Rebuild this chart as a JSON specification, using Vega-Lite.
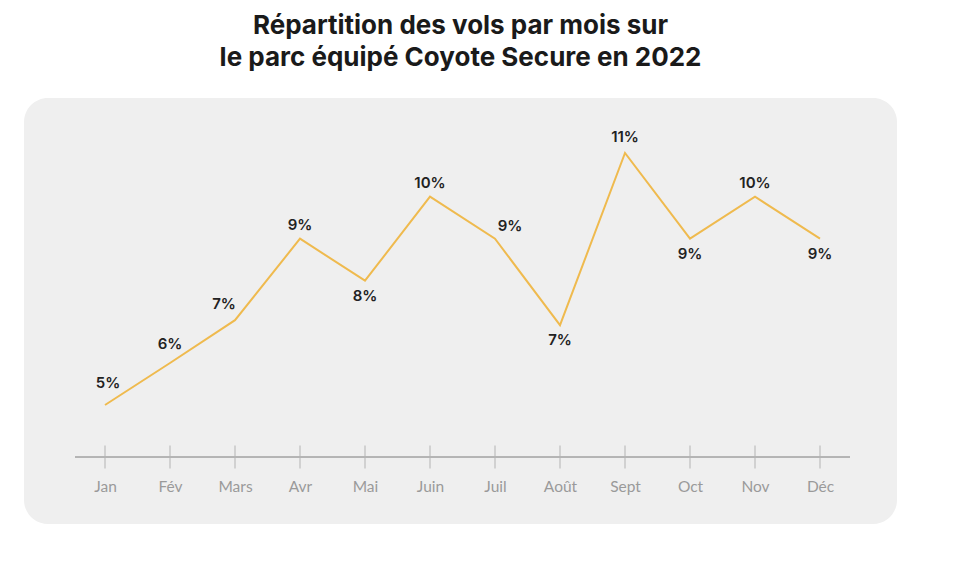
{
  "$schema": "https://vega.github.io/schema/vega-lite/v6.json",
  "autosize": "none",
  "width": 873,
  "height": 426,
  "padding": {"left": 24, "top": 98, "right": 63, "bottom": 40},
  "background": "#ffffff",
  "title": {
    "text": ["Répartition des vols par mois sur", "le parc équipé Coyote Secure en 2022"],
    "anchor": "middle",
    "font": "Inter",
    "fontSize": 26,
    "fontWeight": "bold",
    "color": "#1a1a1a",
    "lineHeight": 32,
    "offset": 27
  },
  "config": {
    "view": {"fill": "#efefef", "cornerRadius": 24, "stroke": null}
  },
  "data": {
    "values": [
      {"mois": "Jan", "part": 0.050},
      {"mois": "Fév", "part": 0.060},
      {"mois": "Mars", "part": 0.0702},
      {"mois": "Avr", "part": 0.0896},
      {"mois": "Mai", "part": 0.0796},
      {"mois": "Juin", "part": 0.0996},
      {"mois": "Juil", "part": 0.0896},
      {"mois": "Août", "part": 0.069},
      {"mois": "Sept", "part": 0.110},
      {"mois": "Oct", "part": 0.0896},
      {"mois": "Nov", "part": 0.0996},
      {"mois": "Déc", "part": 0.0896}
    ]
  },
  "encoding": {
    "x": {
      "field": "mois",
      "type": "ordinal",
      "scale": {
        "type": "point",
        "domain": ["Jan", "Fév", "Mars", "Avr", "Mai", "Juin", "Juil", "Août", "Sept", "Oct", "Nov", "Déc"],
        "range": [81, 796],
        "padding": 0
      },
      "axis": {
        "title": null,
        "orient": "bottom",
        "offset": -67,
        "domain": false,
        "ticks": false,
        "grid": false,
        "labelAngle": 0,
        "labelPadding": 22,
        "labelColor": "#9a9a9a",
        "labelFont": "Lato",
        "labelFontSize": 15.5
      }
    },
    "y": {
      "field": "part",
      "type": "quantitative",
      "scale": {"domain": [0.02167, 0.1231], "nice": false, "zero": false},
      "axis": null
    }
  },
  "layer": [
    {
      "mark": {"type": "rule", "color": "#b4b4b4", "strokeWidth": 1, "xOffset": -30, "x2Offset": 30},
      "encoding": {
        "x": {"datum": "Jan", "type": "ordinal"},
        "x2": {"datum": "Déc"},
        "y": {"datum": 0.03762, "type": "quantitative"}
      }
    },
    {
      "mark": {"type": "tick", "orient": "vertical", "size": 23, "thickness": 1, "color": "#b4b4b4", "opacity": 1},
      "encoding": {
        "y": {"datum": 0.03762, "type": "quantitative"}
      }
    },
    {
      "mark": {"type": "line", "color": "#efba4e", "strokeWidth": 2}
    },
    {
      "transform": [{"filter": "indexof(['Avr','Juin','Nov'], datum.mois) >= 0"}],
      "mark": {"type": "text", "dy": -14, "baseline": "middle", "font": "Inter", "fontSize": 15, "fontWeight": 600, "color": "#222222"},
      "encoding": {"text": {"field": "part", "type": "quantitative", "format": ".0%"}}
    },
    {
      "transform": [{"filter": "datum.mois == 'Sept'"}],
      "mark": {"type": "text", "dy": -16, "baseline": "middle", "font": "Inter", "fontSize": 15, "fontWeight": 600, "color": "#222222"},
      "encoding": {"text": {"field": "part", "type": "quantitative", "format": ".0%"}}
    },
    {
      "transform": [{"filter": "datum.mois == 'Jan'"}],
      "mark": {"type": "text", "dx": 3, "dy": -22, "baseline": "middle", "font": "Inter", "fontSize": 15, "fontWeight": 600, "color": "#222222"},
      "encoding": {"text": {"field": "part", "type": "quantitative", "format": ".0%"}}
    },
    {
      "transform": [{"filter": "datum.mois == 'Fév'"}],
      "mark": {"type": "text", "dy": -19, "baseline": "middle", "font": "Inter", "fontSize": 15, "fontWeight": 600, "color": "#222222"},
      "encoding": {"text": {"field": "part", "type": "quantitative", "format": ".0%"}}
    },
    {
      "transform": [{"filter": "datum.mois == 'Mars'"}],
      "mark": {"type": "text", "dx": -11, "dy": -16, "baseline": "middle", "font": "Inter", "fontSize": 15, "fontWeight": 600, "color": "#222222"},
      "encoding": {"text": {"field": "part", "type": "quantitative", "format": ".0%"}}
    },
    {
      "transform": [{"filter": "datum.mois == 'Juil'"}],
      "mark": {"type": "text", "dx": 15, "dy": -13, "baseline": "middle", "font": "Inter", "fontSize": 15, "fontWeight": 600, "color": "#222222"},
      "encoding": {"text": {"field": "part", "type": "quantitative", "format": ".0%"}}
    },
    {
      "transform": [{"filter": "indexof(['Mai','Août','Oct','Déc'], datum.mois) >= 0"}],
      "mark": {"type": "text", "dy": 15, "baseline": "middle", "font": "Inter", "fontSize": 15, "fontWeight": 600, "color": "#222222"},
      "encoding": {"text": {"field": "part", "type": "quantitative", "format": ".0%"}}
    }
  ]
}
